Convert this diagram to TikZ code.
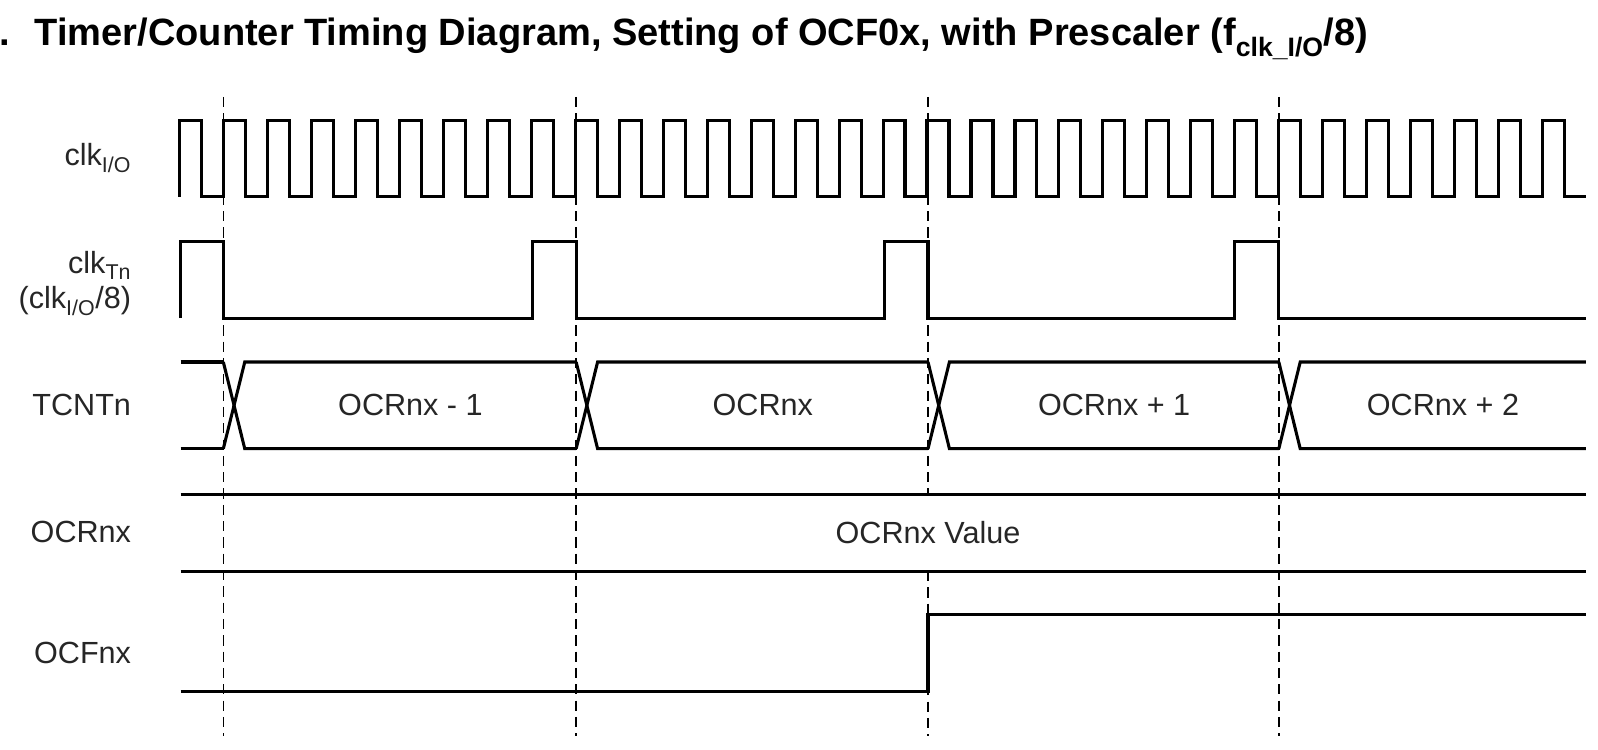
\documentclass[tikz,border=0pt]{standalone}
\usepackage{fontspec}
\setmainfont{Liberation Sans}
\usetikzlibrary{calc}

\begin{document}
\begin{tikzpicture}[x=1pt,y=-1pt,
  sig/.style={line width=3pt,line join=miter},
  tick/.style={line width=1.8pt,dash pattern=on 10pt off 6pt},
  lbl/.style={anchor=east,font=\fontsize{30}{34}\selectfont,align=right,text=black!85},
  val/.style={font=\fontsize{30}{34}\selectfont,text=black!85}]
\useasboundingbox (0,0) rectangle (1567,735);
\def\P{43.125}
\def\xs{175.9}
% title
\node[anchor=west,font=\fontsize{37.3}{40}\selectfont\bfseries] (title) at (-4,38)
  {.\hspace{24pt}Timer/Counter Timing Diagram, Setting of OCF0x, with Prescaler (f\textsubscript{clk\_I/O}/8)};
% signal names
\node[lbl] (nclkio) at (132,155) {clk\textsubscript{I/O}};
\node[lbl] (nclktn) at (132,278) {clk\textsubscript{Tn}\\(clk\textsubscript{I/O}/8)};
\node[lbl] (ntcnt) at (132,397) {TCNTn};
\node[lbl] (nocr) at (132,522) {OCRnx};
\node[lbl] (nocf) at (132,640) {OCFnx};
% dashed markers
\draw[tick,line width=1.2pt] (219,95) -- (219,722);
\foreach \t in {565,1254}
  \draw[tick] (\t,95) -- (\t,722);
\draw[tick] (910,95) -- (910,485);
\draw[tick] (910,560) -- (910,722);
% clk I/O
\draw[sig] (\xs,193) \foreach \k in {0,...,31}{
  -- ({\xs+\k*\P},193) -- ({\xs+\k*\P},118)
  -- ({\xs+(\k+0.5)*\P},118) -- ({\xs+(\k+0.5)*\P},193)} -- (1555,193);
% clk Tn
\draw[sig] (177,312) -- (177,237) -- (219,237) -- (219,312)
  \foreach \t in {565,910,1254}{
  -- ({\t-\P},312) -- ({\t-\P},237) -- (\t,237) -- (\t,312)} -- (1555,312);
% TCNTn
\draw[sig] (177,355) -- (219,355);
\draw[sig] (177,440) -- (219,440);
\foreach \t/\n/\v in {219/565/OCRnx - 1,565/910/OCRnx,910/1254/OCRnx + 1,1254/1555/OCRnx + 2}{
  \draw[sig] (\t,355) -- (\t+21,440) -- (\n,440);
  \draw[sig] (\t,440) -- (\t+21,355) -- (\n,355);
  \node[val] at ({(\t+21+\n)/2},397) {\v};
}
% OCRnx
\draw[sig] (177,485) -- (1555,485);
\draw[sig] (177,560) -- (1555,560);
\node[val] (ocrval) at (910,522) {OCRnx Value};
% OCFnx
\draw[sig] (177,678) -- (910,678) -- (910,603) -- (1555,603);
\end{tikzpicture}
\end{document}
